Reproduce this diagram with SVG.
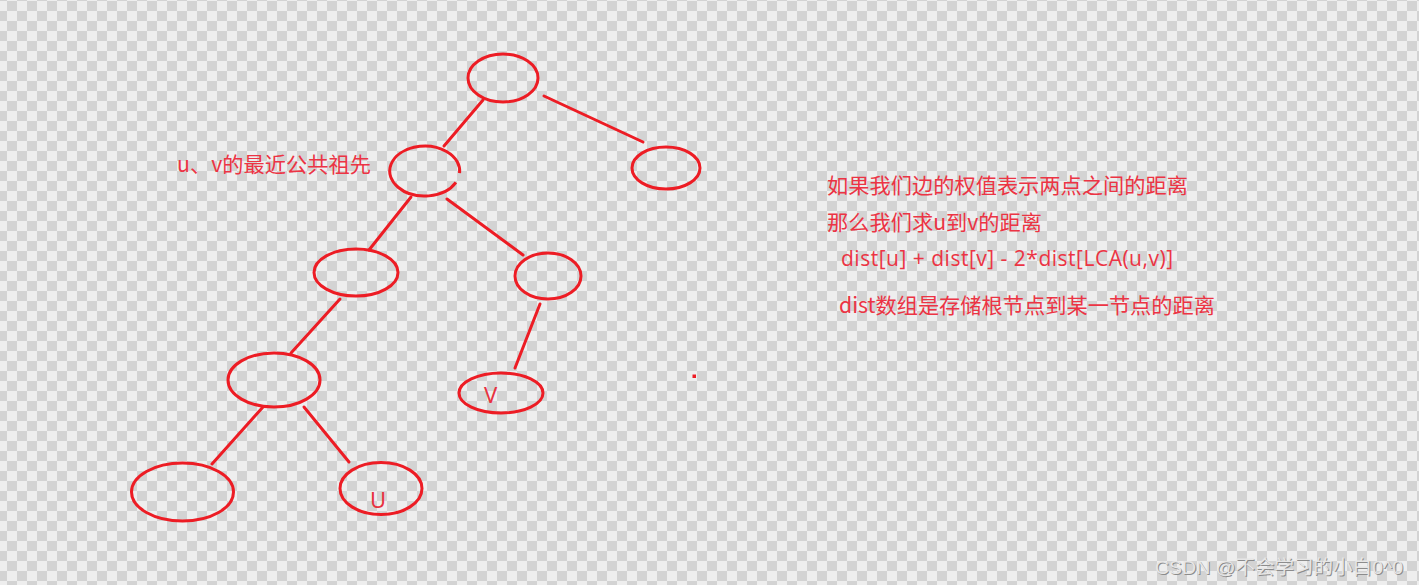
<svg xmlns="http://www.w3.org/2000/svg" width="1419" height="585" viewBox="0 0 1419 585">
  <defs>
    <pattern id="checker" patternUnits="userSpaceOnUse" x="7" y="1" width="20" height="20">
      <rect width="20" height="20" fill="#EEEEEE"/>
      <rect width="10" height="10" fill="#D3D3D3"/>
      <rect x="10" y="10" width="10" height="10" fill="#D3D3D3"/>
    </pattern>
    <style>
      .node { fill: none; stroke: #ED1C24; stroke-width: 3; }
      .edge { stroke: #ED1C24; stroke-width: 3; stroke-linecap: round; fill: none; }
      .t { font-family: "Noto Sans CJK SC", "Noto Sans", sans-serif; font-size: 21px; fill: #EC3444; }
      .lat { font-family: "Open Sans", "Noto Sans", sans-serif; font-size: 21px; fill: #EC3444; }
      .lbl { font-family: "Noto Sans", "Noto Sans CJK SC", sans-serif; font-size: 22px; fill: #E8323F; }
      .wm { font-family: "Liberation Sans", "Noto Sans CJK SC", sans-serif; font-size: 19px; }
    </style>
  </defs>
  <rect width="1419" height="585" fill="url(#checker)"/>

  <g id="connectors">
    <line class="edge" x1="483" y1="100" x2="444" y2="146"/>
    <line class="edge" x1="544" y1="96" x2="643" y2="142"/>
    <line class="edge" x1="411" y1="197" x2="369" y2="250"/>
    <line class="edge" x1="447" y1="199" x2="523" y2="255"/>
    <line class="edge" x1="340" y1="299" x2="291" y2="353"/>
    <line class="edge" x1="540" y1="304" x2="515" y2="368"/>
    <line class="edge" x1="263" y1="407" x2="212" y2="464"/>
    <line class="edge" x1="304" y1="407" x2="349" y2="462"/>
  </g>

  <g id="root"><ellipse class="node" cx="503" cy="78" rx="35" ry="24"/></g>
  <g id="lca"><path class="node" d="M455.9,182.4 A35,25 0 1 1 459.6,173.1"/></g>
  <g id="right1"><ellipse class="node" cx="666" cy="168" rx="34" ry="21"/></g>
  <g id="left2"><ellipse class="node" cx="356" cy="272.5" rx="42" ry="23.5"/></g>
  <g id="right2"><ellipse class="node" cx="548" cy="276" rx="33" ry="23"/></g>
  <g id="left3"><ellipse class="node" cx="274" cy="380" rx="46" ry="27"/></g>
  <g id="nodeV">
    <ellipse class="node" cx="501" cy="393" rx="42" ry="20"/>
    <text class="lbl" x="484" y="403">V</text>
  </g>
  <g id="bottomLeft"><ellipse class="node" cx="182.5" cy="492" rx="51" ry="29"/></g>
  <g id="nodeU">
    <ellipse class="node" cx="381" cy="488.5" rx="41" ry="26"/>
    <text class="lbl" x="370" y="508">U</text>
  </g>

  <rect x="692.5" y="374.5" width="3.5" height="3.5" fill="#ED1C24"/>

  <g id="labels">
    <text class="t" x="177" y="172" textLength="194" lengthAdjust="spacingAndGlyphs">u、v的最近公共祖先</text>
    <text class="t" x="827" y="193" textLength="361" lengthAdjust="spacingAndGlyphs">如果我们边的权值表示两点之间的距离</text>
    <text class="t" x="827" y="230" textLength="215" lengthAdjust="spacingAndGlyphs">那么我们求u到v的距离</text>
    <text class="lat" x="841" y="266" textLength="332" lengthAdjust="spacing">dist[u] + dist[v] - 2*dist[LCA(u,v)]</text>
    <text class="t" x="839" y="313" textLength="376" lengthAdjust="spacingAndGlyphs">dist数组是存储根节点到某一节点的距离</text>
  </g>

  <g id="watermark">
    <text class="wm" x="1156" y="575" fill="#8C8C8C" textLength="248" lengthAdjust="spacingAndGlyphs">CSDN @不会学习的小白0^0</text>
    <text class="wm" x="1155" y="574" fill="#E6E6E6" textLength="248" lengthAdjust="spacingAndGlyphs">CSDN @不会学习的小白0^0</text>
  </g>
</svg>
